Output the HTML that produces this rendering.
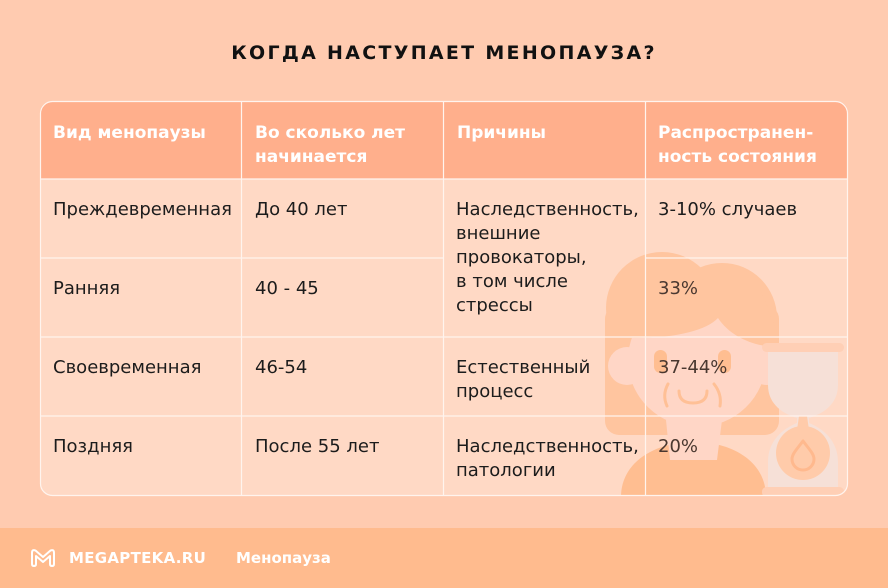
<!DOCTYPE html>
<html><head><meta charset="utf-8"><style>
html,body{margin:0;padding:0;}
body{width:888px;height:588px;position:relative;overflow:hidden;background:#FFCBB0;font-family:"DejaVu Sans","Liberation Sans",sans-serif;}
.t{position:absolute;white-space:nowrap;}
.title{left:0;width:888px;text-align:center;top:39px;font-size:19px;line-height:28px;font-weight:bold;letter-spacing:2.3px;color:#111;}
.h{font-size:17px;line-height:24px;font-weight:bold;color:#fff;top:121px;}
.b{font-size:18px;line-height:24px;color:#1c1c1c;}
.c4{color:#4a3830;}
</style></head><body>
<div class="t title">КОГДА НАСТУПАЕТ МЕНОПАУЗА?</div>

<svg width="888" height="588" style="position:absolute;left:0;top:0">
  <defs>
    <clipPath id="tc"><rect x="40" y="101" width="808" height="395" rx="12" ry="12"/></clipPath>
  </defs>
  <g clip-path="url(#tc)">
    <rect x="40" y="101" width="808" height="395" fill="#FFD9C5"/>
    <rect x="40" y="101" width="808" height="78" fill="#FFAF8C"/>
    <!-- girl -->
    <g>
      <circle cx="662" cy="308" r="56" fill="#FFC59F"/>
      <circle cx="722" cy="318" r="55" fill="#FFC59F"/>
      <rect x="605" y="305" width="174" height="130" rx="14" fill="#FFC59F"/>
      <path d="M621 497 C621 462 655 442 694 442 C733 442 766 462 766 497 Z" fill="#FFBE91"/>
      <path d="M666 420 L722 420 L717 460 L670 460 Z" fill="#FFD6C6"/>
      <circle cx="627" cy="366" r="19" fill="#FFD6C6"/>
      <circle cx="767" cy="366" r="19" fill="#FFD6C6"/>
      <ellipse cx="697" cy="360" rx="69" ry="67" fill="#FFD6C6"/>
      <path d="M612 337 C665 341 705 332 718 318 C730 336 752 346 776 347 L776 330 L760 288 L612 288 Z" fill="#FFC59F"/>
      <rect x="654" y="350" width="13" height="23" rx="6.5" fill="#FFBE91"/>
      <rect x="718" y="350" width="13" height="23" rx="6.5" fill="#FFBE91"/>
      <path d="M679 391 Q679 403 693 403 Q707 403 707 391" fill="none" stroke="#FFC096" stroke-width="3" stroke-linecap="round"/>
      <path d="M668 384 Q662 395 667 406" fill="none" stroke="#FFC096" stroke-width="3" stroke-linecap="round"/>
      <path d="M714 384 Q722 394 720 406" fill="none" stroke="#FFC096" stroke-width="3" stroke-linecap="round"/>
    </g>
    <!-- hourglass -->
    <g>
      <path d="M768 352 L838 352 L838 385 C838 405 822 414 809 418 L809 423 C822 428 838 440 838 462 L838 487 L768 487 L768 462 C768 440 784 428 797 423 L797 418 C784 414 768 405 768 385 Z" fill="#F6E0D7"/>
      <path d="M799 416 L807 416 L809 430 L797 430 Z" fill="#FFCBAA"/>
      <circle cx="803" cy="453" r="27" fill="#FFCBAA"/>
      <path d="M803 441 C797 449 792 454 792 459 A11 11 0 0 0 814 459 C814 454 809 449 803 441 Z" fill="none" stroke="#FFB98E" stroke-width="3" stroke-linejoin="round"/>
      <rect x="762" y="343" width="82" height="9" rx="4.5" fill="#FFCFB5"/>
      <rect x="762" y="487" width="82" height="10" rx="4.5" fill="#FFCFB5"/>
    </g>
    <!-- grid -->
    <g stroke="#FFF4EE" stroke-width="1.2" fill="none">
      <line x1="241.5" y1="101" x2="241.5" y2="496"/>
      <line x1="443.5" y1="101" x2="443.5" y2="496"/>
      <line x1="645.5" y1="101" x2="645.5" y2="496"/>
      <line x1="40" y1="179" x2="848" y2="179"/>
      <line x1="40" y1="258" x2="443.5" y2="258"/>
      <line x1="645.5" y1="258" x2="848" y2="258"/>
      <line x1="40" y1="337" x2="848" y2="337"/>
      <line x1="40" y1="416" x2="848" y2="416"/>
    </g>
  </g>
  <rect x="40.5" y="101.5" width="807" height="394" rx="12" ry="12" fill="none" stroke="#FFF4EE" stroke-width="1.2"/>
  <!-- footer -->
  <rect x="0" y="528" width="888" height="60" fill="#FFBB8E"/>
  <g fill="none" stroke="#fff" stroke-width="2" stroke-linejoin="round" stroke-linecap="round">
    <path d="M32 564 V553 Q32 549 35.5 550.5 L43 557 L50.5 550.5 Q54 549 54 553 V564 Q54 566 52 566 Q50 566 50 564 V556 L43 562 L36 556 V564 Q36 566 34 566 Q32 566 32 564 Z"/>
  </g>
</svg>

<div class="t h" style="left:53px;">Вид менопаузы</div>
<div class="t h" style="left:255px;">Во сколько лет<br>начинается</div>
<div class="t h" style="left:457px;">Причины</div>
<div class="t h" style="left:658px;">Распространен-<br>ность состояния</div>

<div class="t b" style="left:53px;top:198px;">Преждевременная</div>
<div class="t b" style="left:255px;top:198px;">До 40 лет</div>
<div class="t b" style="left:456px;top:198px;">Наследственность,<br>внешние<br>провокаторы,<br>в том числе<br>стрессы</div>
<div class="t b" style="left:658px;top:198px;">3-10% случаев</div>

<div class="t b" style="left:53px;top:277px;">Ранняя</div>
<div class="t b" style="left:255px;top:277px;">40 - 45</div>
<div class="t b c4" style="left:658px;top:277px;">33%</div>

<div class="t b" style="left:53px;top:356px;">Своевременная</div>
<div class="t b" style="left:255px;top:356px;">46-54</div>
<div class="t b" style="left:456px;top:356px;">Естественный<br>процесс</div>
<div class="t b c4" style="left:658px;top:356px;">37-44%</div>

<div class="t b" style="left:53px;top:435px;">Поздняя</div>
<div class="t b" style="left:255px;top:435px;">После 55 лет</div>
<div class="t b" style="left:456px;top:435px;">Наследственность,<br>патологии</div>
<div class="t b c4" style="left:658px;top:435px;">20%</div>

<div class="t" style="left:69px;top:548px;font-size:15px;line-height:20px;font-weight:bold;color:#fff;letter-spacing:0.3px;">MEGAPTEKA.RU</div>
<div class="t" style="left:236px;top:548px;font-size:15px;line-height:20px;font-weight:bold;color:#fff;">Менопауза</div>
</body></html>
